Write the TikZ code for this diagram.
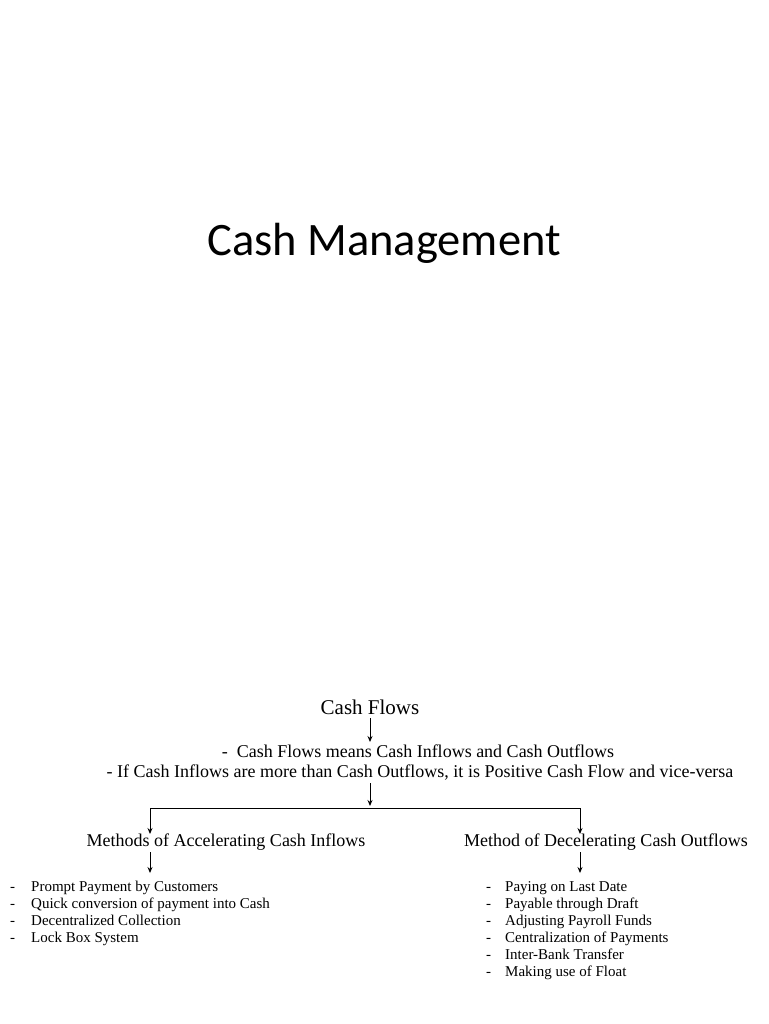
\documentclass[tikz,border=0pt]{standalone}
\usepackage{fontspec}
\usetikzlibrary{arrows.meta}
\setmainfont{Liberation Serif}
\newfontfamily\titlefont{Carlito}
\begin{document}
\begin{tikzpicture}[x=1pt,y=-1pt,
  every node/.style={inner sep=0pt},
  arr/.style={-{Stealth[length=6pt,width=5pt]},line width=0.9pt},
  hd/.style={font=\fontsize{21}{23}\selectfont},
  ln/.style={font=\fontsize{18}{20}\selectfont},
  it/.style={font=\fontsize{15}{17}\selectfont,anchor=base west}]
\useasboundingbox (0,0) rectangle (768,1024);
\node[font=\titlefont\fontsize{46.5}{50}\selectfont] (title) at (384,243) {Cash Management};
\node[hd] (cf) at (370,707) {Cash Flows};
\node[ln] (l1) at (418,751) {-\ \ Cash Flows means Cash Inflows and Cash Outflows};
\node[ln] (l2) at (420,773) {- If Cash Inflows are more than Cash Outflows, it is Positive Cash Flow and vice-versa};
\coordinate (top) at (370,806);
\coordinate (hl) at (150,808);
\coordinate (hr) at (580,808);
\node[ln] (ml) at (226,842) {Methods of Accelerating Cash Inflows};
\node[ln] (mr) at (606,842) {Method of Decelerating Cash Outflows};
\coordinate (a1) at (370,718);
\coordinate (a2) at (370,742);
\coordinate (b1) at (370,783);
\coordinate (al) at (150,834);
\coordinate (ar) at (580,834);
\coordinate (cl1) at (150,852);
\coordinate (cl2) at (150,873);
\coordinate (cr1) at (580,852);
\coordinate (cr2) at (580,873);
\draw[arr] (a1) -- (a2);
\draw[arr] (b1) -- (top);
\draw[line width=0.9pt] (hl) -- (hr);
\draw[arr] (hl) -- (al);
\draw[arr] (hr) -- (ar);
\draw[arr] (cl1) -- (cl2);
\draw[arr] (cr1) -- (cr2);
\foreach \t [count=\i] in {Prompt Payment by Customers,Quick conversion of payment into Cash,Decentralized Collection,Lock Box System}{
  \node[it] (dl\i) at (10,874+17*\i) {-};
  \node[it] (il\i) at (31,874+17*\i) {\t};
}
\foreach \t [count=\i] in {Paying on Last Date,Payable through Draft,Adjusting Payroll Funds,Centralization of Payments,Inter-Bank Transfer,Making use of Float}{
  \node[it] (dr\i) at (486,874+17*\i) {-};
  \node[it] (ir\i) at (505,874+17*\i) {\t};
}
\end{tikzpicture}
\end{document}
